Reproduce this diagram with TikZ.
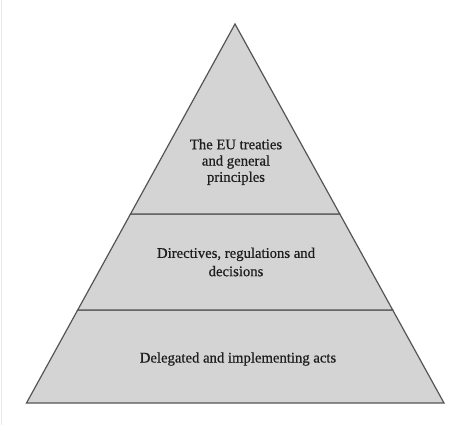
\documentclass[tikz,border=0pt]{standalone}
\usepackage{fontspec}
\setmainfont{Liberation Serif}
\definecolor{tierfill}{RGB}{212,212,212}
\definecolor{tierline}{RGB}{85,85,85}
\definecolor{tiertext}{RGB}{30,30,30}
\tikzset{
  tier/.style={fill=tierfill, draw=tierline, line width=1.2pt, line join=miter},
  tierlabel/.style={text=tiertext, align=center, inner sep=0pt,
    font=\fontsize{14.7}{16.3}\selectfont\addfontfeature{FakeBold=0.6}}
}
\begin{document}
\begin{tikzpicture}[x=1pt,y=-1pt]
\useasboundingbox (0,0) rectangle (468,425);
\fill[white] (0,0) rectangle (468,425);
\draw[black!8, line width=1pt] (1,0) -- (1,425);
\coordinate (apex) at (235,24);
\coordinate (bl) at (26.5,403);
\coordinate (br) at (444,403);
\coordinate (l1) at (130.5,214);
\coordinate (r1) at (339.8,214);
\coordinate (l2) at (77.7,310);
\coordinate (r2) at (392.7,310);
\draw[tier] (bl) -- (br) -- (r2) -- (l2) -- cycle;
\draw[tier] (l2) -- (r2) -- (r1) -- (l1) -- cycle;
\draw[tier] (l1) -- (r1) -- (apex) -- cycle;
\node[tierlabel] (top) at (236,162) {The EU treaties\\and general\\principles};
\node[tierlabel, font=\fontsize{14.7}{18.3}\selectfont\addfontfeature{FakeBold=0.6}] (mid) at (236,262) {Directives, regulations and\\decisions};
\node[tierlabel] (bot) at (238,359) {Delegated and implementing acts};
\end{tikzpicture}
\end{document}
